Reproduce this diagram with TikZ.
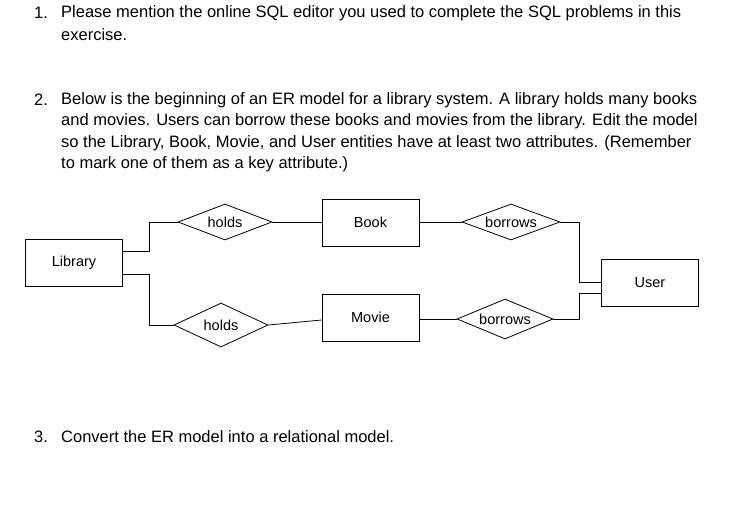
\documentclass[tikz,border=0pt]{standalone}
\usepackage{fontspec}
\setmainfont{Liberation Sans}
\usetikzlibrary{shapes.geometric}
\begin{document}
\begin{tikzpicture}[x=1pt,y=-1pt,
  txt/.style={anchor=west,inner sep=0pt,font=\fontsize{16.5}{20}\selectfont},
  ent/.style={draw,minimum width=97pt,minimum height=47pt,inner sep=0pt,font=\fontsize{14.5}{16}\selectfont},
  rel/.style={draw,diamond,aspect=2.6,inner sep=0pt,font=\fontsize{14.5}{16}\selectfont},
  ln/.style={line width=0.8pt}]
\useasboundingbox (0,0) rectangle (747,507);
\node[txt] (n1) at (34,13) {1.};
\node[txt] (l1a) at (61,13) {Please mention the online SQL editor you used to complete the SQL problems in this};
\node[txt] (l1b) at (61,35) {exercise.};
\node[txt] (n2) at (34,100) {2.};
\node[txt] (l2a) at (61,100) {Below is the beginning of an ER model for a library system. A library holds many books};
\node[txt] (l2b) at (61,121.5) {and movies. Users can borrow these books and movies from the library. Edit the model};
\node[txt] (l2c) at (61,143) {so the Library, Book, Movie, and User entities have at least two attributes. (Remember};
\node[txt] (l2d) at (61,164.5) {to mark one of them as a key attribute.)};
\node[txt] (n3) at (34,437) {3.};
\node[txt] (l3) at (61,437) {Convert the ER model into a relational model.};

\node[ent,line width=0.8pt] (lib) at (74,263) {Library};
\node[ent,line width=0.8pt] (book) at (370.5,222.5) {Book};
\node[ent,line width=0.8pt] (movie) at (370.5,317.5) {Movie};
\node[ent,line width=0.8pt] (user) at (650,283) {User};
\node[rel,line width=0.8pt,minimum width=94pt,minimum height=36pt] (h1) at (225,222) {holds};
\node[rel,line width=0.8pt,minimum width=94pt,minimum height=44pt] (h2) at (221,325) {holds};
\node[rel,line width=0.8pt,minimum width=98pt,minimum height=36pt] (b1) at (511,222) {borrows};
\node[rel,line width=0.8pt,minimum width=96pt,minimum height=40pt] (b2) at (505,319) {borrows};

\draw[ln] (lib.east |- 0,251) -- (149,251) -- (149,222) -- (h1.west);
\draw[ln] (lib.east |- 0,274) -- (149,274) -- (149,325) -- (h2.west);
\draw[ln] (h1.east) -- (book.west |- h1.east);
\draw[ln] (h2.east) -- (movie.west |- 0,320);
\draw[ln] (book.east |- b1.west) -- (b1.west);
\draw[ln] (movie.east |- b2.west) -- (b2.west);
\draw[ln] (b1.east) -- (579,222) -- (579,282) -- (user.west |- 0,282);
\draw[ln] (b2.east) -- (579,319) -- (579,293) -- (user.west |- 0,293);
\end{tikzpicture}
\end{document}
